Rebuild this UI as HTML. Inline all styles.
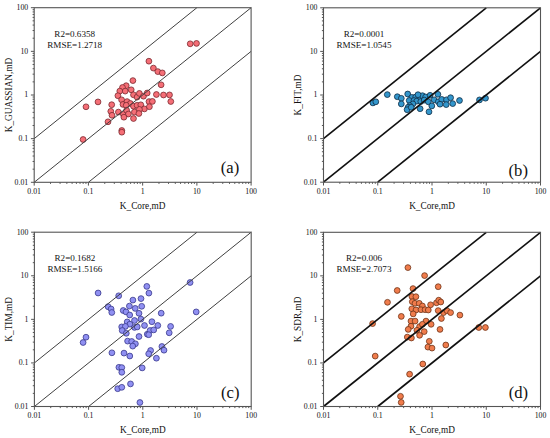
<!DOCTYPE html>
<html><head><meta charset="utf-8"><style>
html,body{margin:0;padding:0;background:#fff;width:550px;height:438px;overflow:hidden;position:relative}
text{font-family:"Liberation Serif",serif;fill:#111}
.tl{font-size:7.8px}
.al{font-size:9.3px}
.st{font-size:9.1px}
.tag{font-size:16.6px}
</style></head><body>
<svg width="550" height="438" viewBox="0 0 550 438" style="position:absolute;left:0;top:0"><g><circle cx="86.0" cy="106.8" r="2.9" fill="#F56E76" stroke="#7a2a30" stroke-width="0.8"/><circle cx="98.0" cy="101.9" r="2.9" fill="#F56E76" stroke="#7a2a30" stroke-width="0.8"/><circle cx="111.7" cy="104.7" r="2.9" fill="#F56E76" stroke="#7a2a30" stroke-width="0.8"/><circle cx="110.8" cy="111.3" r="2.9" fill="#F56E76" stroke="#7a2a30" stroke-width="0.8"/><circle cx="112.0" cy="115.3" r="2.9" fill="#F56E76" stroke="#7a2a30" stroke-width="0.8"/><circle cx="108.0" cy="121.8" r="2.9" fill="#F56E76" stroke="#7a2a30" stroke-width="0.8"/><circle cx="83.1" cy="139.5" r="2.9" fill="#F56E76" stroke="#7a2a30" stroke-width="0.8"/><circle cx="121.8" cy="130.5" r="2.9" fill="#F56E76" stroke="#7a2a30" stroke-width="0.8"/><circle cx="121.8" cy="132.2" r="2.9" fill="#F56E76" stroke="#7a2a30" stroke-width="0.8"/><circle cx="126.2" cy="85.7" r="2.9" fill="#F56E76" stroke="#7a2a30" stroke-width="0.8"/><circle cx="122.5" cy="87.5" r="2.9" fill="#F56E76" stroke="#7a2a30" stroke-width="0.8"/><circle cx="119.8" cy="91.1" r="2.9" fill="#F56E76" stroke="#7a2a30" stroke-width="0.8"/><circle cx="125.2" cy="91.1" r="2.9" fill="#F56E76" stroke="#7a2a30" stroke-width="0.8"/><circle cx="131.2" cy="89.8" r="2.9" fill="#F56E76" stroke="#7a2a30" stroke-width="0.8"/><circle cx="132.9" cy="80.6" r="2.9" fill="#F56E76" stroke="#7a2a30" stroke-width="0.8"/><circle cx="117.9" cy="95.7" r="2.9" fill="#F56E76" stroke="#7a2a30" stroke-width="0.8"/><circle cx="133.5" cy="94.8" r="2.9" fill="#F56E76" stroke="#7a2a30" stroke-width="0.8"/><circle cx="137.1" cy="97.1" r="2.9" fill="#F56E76" stroke="#7a2a30" stroke-width="0.8"/><circle cx="139.4" cy="93.4" r="2.9" fill="#F56E76" stroke="#7a2a30" stroke-width="0.8"/><circle cx="143.5" cy="96.2" r="2.9" fill="#F56E76" stroke="#7a2a30" stroke-width="0.8"/><circle cx="147.2" cy="93.0" r="2.9" fill="#F56E76" stroke="#7a2a30" stroke-width="0.8"/><circle cx="121.6" cy="99.8" r="2.9" fill="#F56E76" stroke="#7a2a30" stroke-width="0.8"/><circle cx="123.0" cy="104.4" r="2.9" fill="#F56E76" stroke="#7a2a30" stroke-width="0.8"/><circle cx="127.1" cy="101.6" r="2.9" fill="#F56E76" stroke="#7a2a30" stroke-width="0.8"/><circle cx="130.3" cy="103.5" r="2.9" fill="#F56E76" stroke="#7a2a30" stroke-width="0.8"/><circle cx="126.2" cy="105.3" r="2.9" fill="#F56E76" stroke="#7a2a30" stroke-width="0.8"/><circle cx="133.5" cy="106.2" r="2.9" fill="#F56E76" stroke="#7a2a30" stroke-width="0.8"/><circle cx="137.1" cy="105.3" r="2.9" fill="#F56E76" stroke="#7a2a30" stroke-width="0.8"/><circle cx="140.8" cy="104.8" r="2.9" fill="#F56E76" stroke="#7a2a30" stroke-width="0.8"/><circle cx="144.4" cy="108.9" r="2.9" fill="#F56E76" stroke="#7a2a30" stroke-width="0.8"/><circle cx="139.4" cy="109.4" r="2.9" fill="#F56E76" stroke="#7a2a30" stroke-width="0.8"/><circle cx="149.0" cy="101.6" r="2.9" fill="#F56E76" stroke="#7a2a30" stroke-width="0.8"/><circle cx="149.4" cy="106.7" r="2.9" fill="#F56E76" stroke="#7a2a30" stroke-width="0.8"/><circle cx="118.4" cy="112.1" r="2.9" fill="#F56E76" stroke="#7a2a30" stroke-width="0.8"/><circle cx="123.4" cy="114.4" r="2.9" fill="#F56E76" stroke="#7a2a30" stroke-width="0.8"/><circle cx="126.6" cy="110.3" r="2.9" fill="#F56E76" stroke="#7a2a30" stroke-width="0.8"/><circle cx="128.4" cy="114.0" r="2.9" fill="#F56E76" stroke="#7a2a30" stroke-width="0.8"/><circle cx="123.9" cy="117.2" r="2.9" fill="#F56E76" stroke="#7a2a30" stroke-width="0.8"/><circle cx="134.4" cy="112.1" r="2.9" fill="#F56E76" stroke="#7a2a30" stroke-width="0.8"/><circle cx="138.9" cy="113.5" r="2.9" fill="#F56E76" stroke="#7a2a30" stroke-width="0.8"/><circle cx="133.5" cy="118.5" r="2.9" fill="#F56E76" stroke="#7a2a30" stroke-width="0.8"/><circle cx="152.4" cy="101.4" r="2.9" fill="#F56E76" stroke="#7a2a30" stroke-width="0.8"/><circle cx="148.9" cy="61.2" r="2.9" fill="#F56E76" stroke="#7a2a30" stroke-width="0.8"/><circle cx="153.4" cy="68.1" r="2.9" fill="#F56E76" stroke="#7a2a30" stroke-width="0.8"/><circle cx="157.8" cy="71.6" r="2.9" fill="#F56E76" stroke="#7a2a30" stroke-width="0.8"/><circle cx="162.3" cy="72.9" r="2.9" fill="#F56E76" stroke="#7a2a30" stroke-width="0.8"/><circle cx="161.1" cy="84.8" r="2.9" fill="#F56E76" stroke="#7a2a30" stroke-width="0.8"/><circle cx="156.4" cy="94.5" r="2.9" fill="#F56E76" stroke="#7a2a30" stroke-width="0.8"/><circle cx="163.5" cy="95.0" r="2.9" fill="#F56E76" stroke="#7a2a30" stroke-width="0.8"/><circle cx="169.5" cy="94.9" r="2.9" fill="#F56E76" stroke="#7a2a30" stroke-width="0.8"/><circle cx="170.8" cy="101.5" r="2.9" fill="#F56E76" stroke="#7a2a30" stroke-width="0.8"/><circle cx="190.2" cy="43.8" r="2.9" fill="#F56E76" stroke="#7a2a30" stroke-width="0.8"/><circle cx="196.5" cy="43.4" r="2.9" fill="#F56E76" stroke="#7a2a30" stroke-width="0.8"/><line x1="34.20" y1="138.65" x2="196.88" y2="7.70" stroke="#404040" stroke-width="1.0"/><line x1="34.20" y1="182.30" x2="251.10" y2="7.70" stroke="#404040" stroke-width="1.0"/><line x1="88.42" y1="182.30" x2="251.10" y2="51.35" stroke="#404040" stroke-width="1.0"/><rect x="34.2" y="7.7" width="216.89999999999998" height="174.60000000000002" fill="none" stroke="#555" stroke-width="1.1"/><path d="M34.20 182.30v3.3M34.20 182.30h-3.3M50.52 182.30v1.6M34.20 169.16h-1.6M60.07 182.30v1.6M34.20 161.47h-1.6M66.85 182.30v1.6M34.20 156.02h-1.6M72.10 182.30v1.6M34.20 151.79h-1.6M76.40 182.30v1.6M34.20 148.33h-1.6M80.03 182.30v1.6M34.20 145.41h-1.6M83.17 182.30v1.6M34.20 142.88h-1.6M85.94 182.30v1.6M34.20 140.65h-1.6M88.42 182.30v3.3M34.20 138.65h-3.3M104.75 182.30v1.6M34.20 125.51h-1.6M114.30 182.30v1.6M34.20 117.82h-1.6M121.07 182.30v1.6M34.20 112.37h-1.6M126.33 182.30v1.6M34.20 108.14h-1.6M130.62 182.30v1.6M34.20 104.68h-1.6M134.25 182.30v1.6M34.20 101.76h-1.6M137.40 182.30v1.6M34.20 99.23h-1.6M140.17 182.30v1.6M34.20 97.00h-1.6M142.65 182.30v3.3M34.20 95.00h-3.3M158.97 182.30v1.6M34.20 81.86h-1.6M168.52 182.30v1.6M34.20 74.17h-1.6M175.30 182.30v1.6M34.20 68.72h-1.6M180.55 182.30v1.6M34.20 64.49h-1.6M184.85 182.30v1.6M34.20 61.03h-1.6M188.48 182.30v1.6M34.20 58.11h-1.6M191.62 182.30v1.6M34.20 55.58h-1.6M194.39 182.30v1.6M34.20 53.35h-1.6M196.88 182.30v3.3M34.20 51.35h-3.3M213.20 182.30v1.6M34.20 38.21h-1.6M222.75 182.30v1.6M34.20 30.52h-1.6M229.52 182.30v1.6M34.20 25.07h-1.6M234.78 182.30v1.6M34.20 20.84h-1.6M239.07 182.30v1.6M34.20 17.38h-1.6M242.70 182.30v1.6M34.20 14.46h-1.6M245.85 182.30v1.6M34.20 11.93h-1.6M248.62 182.30v1.6M34.20 9.70h-1.6M251.10 182.30v3.3M34.20 7.70h-3.3" stroke="#555" stroke-width="1" fill="none"/><text x="34.20" y="193.80" class="tl" text-anchor="middle">0.01</text><text x="28.20" y="184.60" class="tl" text-anchor="end">0.01</text><text x="88.42" y="193.80" class="tl" text-anchor="middle">0.1</text><text x="28.20" y="140.95" class="tl" text-anchor="end">0.1</text><text x="142.65" y="193.80" class="tl" text-anchor="middle">1</text><text x="28.20" y="97.30" class="tl" text-anchor="end">1</text><text x="196.88" y="193.80" class="tl" text-anchor="middle">10</text><text x="28.20" y="53.65" class="tl" text-anchor="end">10</text><text x="251.10" y="193.80" class="tl" text-anchor="middle">100</text><text x="28.20" y="10.00" class="tl" text-anchor="end">100</text><text x="142.65" y="208.60" class="al" text-anchor="middle">K_Core,mD</text><text transform="translate(11.50,95.00) rotate(-90)" class="al" text-anchor="middle">K_GUASSIAN,mD</text><text x="74.70" y="36.70" class="st" text-anchor="middle">R2=0.6358</text><text x="74.70" y="47.60" class="st" text-anchor="middle">RMSE=1.2718</text><text x="220.80" y="172.70" class="tag">(a)</text></g><g><circle cx="372.9" cy="102.9" r="2.9" fill="#3396CC" stroke="#0f2c44" stroke-width="0.8"/><circle cx="375.8" cy="101.80000000000001" r="2.9" fill="#3396CC" stroke="#0f2c44" stroke-width="0.8"/><circle cx="387.3" cy="94.60000000000001" r="2.9" fill="#3396CC" stroke="#0f2c44" stroke-width="0.8"/><circle cx="397.3" cy="96.7" r="2.9" fill="#3396CC" stroke="#0f2c44" stroke-width="0.8"/><circle cx="401.3" cy="98.30000000000001" r="2.9" fill="#3396CC" stroke="#0f2c44" stroke-width="0.8"/><circle cx="401.3" cy="103.9" r="2.9" fill="#3396CC" stroke="#0f2c44" stroke-width="0.8"/><circle cx="407.7" cy="94.0" r="2.9" fill="#3396CC" stroke="#0f2c44" stroke-width="0.8"/><circle cx="411.9" cy="97.4" r="2.9" fill="#3396CC" stroke="#0f2c44" stroke-width="0.8"/><circle cx="415.7" cy="97.0" r="2.9" fill="#3396CC" stroke="#0f2c44" stroke-width="0.8"/><circle cx="419.4" cy="96.7" r="2.9" fill="#3396CC" stroke="#0f2c44" stroke-width="0.8"/><circle cx="422.5" cy="95.7" r="2.9" fill="#3396CC" stroke="#0f2c44" stroke-width="0.8"/><circle cx="425.6" cy="97.0" r="2.9" fill="#3396CC" stroke="#0f2c44" stroke-width="0.8"/><circle cx="430.1" cy="95.30000000000001" r="2.9" fill="#3396CC" stroke="#0f2c44" stroke-width="0.8"/><circle cx="409.2" cy="100.5" r="2.9" fill="#3396CC" stroke="#0f2c44" stroke-width="0.8"/><circle cx="414.0" cy="100.5" r="2.9" fill="#3396CC" stroke="#0f2c44" stroke-width="0.8"/><circle cx="416.7" cy="101.2" r="2.9" fill="#3396CC" stroke="#0f2c44" stroke-width="0.8"/><circle cx="420.8" cy="101.5" r="2.9" fill="#3396CC" stroke="#0f2c44" stroke-width="0.8"/><circle cx="424.2" cy="100.10000000000001" r="2.9" fill="#3396CC" stroke="#0f2c44" stroke-width="0.8"/><circle cx="428.3" cy="101.80000000000001" r="2.9" fill="#3396CC" stroke="#0f2c44" stroke-width="0.8"/><circle cx="412.9" cy="103.9" r="2.9" fill="#3396CC" stroke="#0f2c44" stroke-width="0.8"/><circle cx="409.8" cy="105.60000000000001" r="2.9" fill="#3396CC" stroke="#0f2c44" stroke-width="0.8"/><circle cx="408.1" cy="107.30000000000001" r="2.9" fill="#3396CC" stroke="#0f2c44" stroke-width="0.8"/><circle cx="407.1" cy="109.7" r="2.9" fill="#3396CC" stroke="#0f2c44" stroke-width="0.8"/><circle cx="411.2" cy="107.30000000000001" r="2.9" fill="#3396CC" stroke="#0f2c44" stroke-width="0.8"/><circle cx="420.1" cy="108.7" r="2.9" fill="#3396CC" stroke="#0f2c44" stroke-width="0.8"/><circle cx="429.0" cy="111.80000000000001" r="2.9" fill="#3396CC" stroke="#0f2c44" stroke-width="0.8"/><circle cx="431.8" cy="105.9" r="2.9" fill="#3396CC" stroke="#0f2c44" stroke-width="0.8"/><circle cx="437.9" cy="94.30000000000001" r="2.9" fill="#3396CC" stroke="#0f2c44" stroke-width="0.8"/><circle cx="434.2" cy="99.80000000000001" r="2.9" fill="#3396CC" stroke="#0f2c44" stroke-width="0.8"/><circle cx="438.3" cy="101.80000000000001" r="2.9" fill="#3396CC" stroke="#0f2c44" stroke-width="0.8"/><circle cx="441.7" cy="99.4" r="2.9" fill="#3396CC" stroke="#0f2c44" stroke-width="0.8"/><circle cx="440.0" cy="104.2" r="2.9" fill="#3396CC" stroke="#0f2c44" stroke-width="0.8"/><circle cx="446.5" cy="99.80000000000001" r="2.9" fill="#3396CC" stroke="#0f2c44" stroke-width="0.8"/><circle cx="446.2" cy="104.60000000000001" r="2.9" fill="#3396CC" stroke="#0f2c44" stroke-width="0.8"/><circle cx="450.6" cy="97.7" r="2.9" fill="#3396CC" stroke="#0f2c44" stroke-width="0.8"/><circle cx="452.7" cy="103.60000000000001" r="2.9" fill="#3396CC" stroke="#0f2c44" stroke-width="0.8"/><circle cx="459.5" cy="100.5" r="2.9" fill="#3396CC" stroke="#0f2c44" stroke-width="0.8"/><circle cx="479.5" cy="99.9" r="2.9" fill="#3396CC" stroke="#0f2c44" stroke-width="0.8"/><circle cx="485.5" cy="98.2" r="2.9" fill="#3396CC" stroke="#0f2c44" stroke-width="0.8"/><circle cx="418.0" cy="94.7" r="2.9" fill="#3396CC" stroke="#0f2c44" stroke-width="0.8"/><line x1="323.50" y1="138.60" x2="486.25" y2="7.80" stroke="#111" stroke-width="1.65"/><line x1="323.50" y1="182.20" x2="540.50" y2="7.80" stroke="#111" stroke-width="1.65"/><line x1="377.75" y1="182.20" x2="540.50" y2="51.40" stroke="#111" stroke-width="1.65"/><rect x="323.5" y="7.8" width="217.0" height="174.39999999999998" fill="none" stroke="#555" stroke-width="1.1"/><path d="M323.50 182.20v3.3M323.50 182.20h-3.3M339.83 182.20v1.6M323.50 169.08h-1.6M349.38 182.20v1.6M323.50 161.40h-1.6M356.16 182.20v1.6M323.50 155.95h-1.6M361.42 182.20v1.6M323.50 151.72h-1.6M365.71 182.20v1.6M323.50 148.27h-1.6M369.35 182.20v1.6M323.50 145.35h-1.6M372.49 182.20v1.6M323.50 142.83h-1.6M375.27 182.20v1.6M323.50 140.60h-1.6M377.75 182.20v3.3M323.50 138.60h-3.3M394.08 182.20v1.6M323.50 125.48h-1.6M403.63 182.20v1.6M323.50 117.80h-1.6M410.41 182.20v1.6M323.50 112.35h-1.6M415.67 182.20v1.6M323.50 108.12h-1.6M419.96 182.20v1.6M323.50 104.67h-1.6M423.60 182.20v1.6M323.50 101.75h-1.6M426.74 182.20v1.6M323.50 99.23h-1.6M429.52 182.20v1.6M323.50 97.00h-1.6M432.00 182.20v3.3M323.50 95.00h-3.3M448.33 182.20v1.6M323.50 81.88h-1.6M457.88 182.20v1.6M323.50 74.20h-1.6M464.66 182.20v1.6M323.50 68.75h-1.6M469.92 182.20v1.6M323.50 64.52h-1.6M474.21 182.20v1.6M323.50 61.07h-1.6M477.85 182.20v1.6M323.50 58.15h-1.6M480.99 182.20v1.6M323.50 55.63h-1.6M483.77 182.20v1.6M323.50 53.40h-1.6M486.25 182.20v3.3M323.50 51.40h-3.3M502.58 182.20v1.6M323.50 38.28h-1.6M512.13 182.20v1.6M323.50 30.60h-1.6M518.91 182.20v1.6M323.50 25.15h-1.6M524.17 182.20v1.6M323.50 20.92h-1.6M528.46 182.20v1.6M323.50 17.47h-1.6M532.10 182.20v1.6M323.50 14.55h-1.6M535.24 182.20v1.6M323.50 12.03h-1.6M538.02 182.20v1.6M323.50 9.80h-1.6M540.50 182.20v3.3M323.50 7.80h-3.3" stroke="#555" stroke-width="1" fill="none"/><text x="323.50" y="193.70" class="tl" text-anchor="middle">0.01</text><text x="317.50" y="184.50" class="tl" text-anchor="end">0.01</text><text x="377.75" y="193.70" class="tl" text-anchor="middle">0.1</text><text x="317.50" y="140.90" class="tl" text-anchor="end">0.1</text><text x="432.00" y="193.70" class="tl" text-anchor="middle">1</text><text x="317.50" y="97.30" class="tl" text-anchor="end">1</text><text x="486.25" y="193.70" class="tl" text-anchor="middle">10</text><text x="317.50" y="53.70" class="tl" text-anchor="end">10</text><text x="540.50" y="193.70" class="tl" text-anchor="middle">100</text><text x="317.50" y="10.10" class="tl" text-anchor="end">100</text><text x="432.00" y="208.50" class="al" text-anchor="middle">K_Core,mD</text><text transform="translate(300.80,95.00) rotate(-90)" class="al" text-anchor="middle">K_FIT,mD</text><text x="364.00" y="36.80" class="st" text-anchor="middle">R2=0.0001</text><text x="364.00" y="47.70" class="st" text-anchor="middle">RMSE=1.0545</text><text x="508.60" y="175.80" class="tag">(b)</text></g><g><circle cx="86.0" cy="337.2" r="2.9" fill="#9090F2" stroke="#38388c" stroke-width="0.8"/><circle cx="83.1" cy="342.5" r="2.9" fill="#9090F2" stroke="#38388c" stroke-width="0.8"/><circle cx="98.1" cy="293.0" r="2.9" fill="#9090F2" stroke="#38388c" stroke-width="0.8"/><circle cx="118.7" cy="295.8" r="2.9" fill="#9090F2" stroke="#38388c" stroke-width="0.8"/><circle cx="108.1" cy="306.7" r="2.9" fill="#9090F2" stroke="#38388c" stroke-width="0.8"/><circle cx="111.1" cy="309.0" r="2.9" fill="#9090F2" stroke="#38388c" stroke-width="0.8"/><circle cx="111.8" cy="312.5" r="2.9" fill="#9090F2" stroke="#38388c" stroke-width="0.8"/><circle cx="132.9" cy="300.1" r="2.9" fill="#9090F2" stroke="#38388c" stroke-width="0.8"/><circle cx="141.0" cy="298.6" r="2.9" fill="#9090F2" stroke="#38388c" stroke-width="0.8"/><circle cx="129.4" cy="306.1" r="2.9" fill="#9090F2" stroke="#38388c" stroke-width="0.8"/><circle cx="135.2" cy="308.4" r="2.9" fill="#9090F2" stroke="#38388c" stroke-width="0.8"/><circle cx="141.7" cy="306.3" r="2.9" fill="#9090F2" stroke="#38388c" stroke-width="0.8"/><circle cx="123.2" cy="310.5" r="2.9" fill="#9090F2" stroke="#38388c" stroke-width="0.8"/><circle cx="126.0" cy="311.9" r="2.9" fill="#9090F2" stroke="#38388c" stroke-width="0.8"/><circle cx="129.7" cy="315.0" r="2.9" fill="#9090F2" stroke="#38388c" stroke-width="0.8"/><circle cx="139.0" cy="313.3" r="2.9" fill="#9090F2" stroke="#38388c" stroke-width="0.8"/><circle cx="146.8" cy="286.4" r="2.9" fill="#9090F2" stroke="#38388c" stroke-width="0.8"/><circle cx="148.9" cy="293.1" r="2.9" fill="#9090F2" stroke="#38388c" stroke-width="0.8"/><circle cx="161.2" cy="313.2" r="2.9" fill="#9090F2" stroke="#38388c" stroke-width="0.8"/><circle cx="134.5" cy="320.5" r="2.9" fill="#9090F2" stroke="#38388c" stroke-width="0.8"/><circle cx="140.9" cy="319.1" r="2.9" fill="#9090F2" stroke="#38388c" stroke-width="0.8"/><circle cx="127.2" cy="321.9" r="2.9" fill="#9090F2" stroke="#38388c" stroke-width="0.8"/><circle cx="129.9" cy="324.2" r="2.9" fill="#9090F2" stroke="#38388c" stroke-width="0.8"/><circle cx="121.7" cy="326.9" r="2.9" fill="#9090F2" stroke="#38388c" stroke-width="0.8"/><circle cx="125.4" cy="326.4" r="2.9" fill="#9090F2" stroke="#38388c" stroke-width="0.8"/><circle cx="122.2" cy="330.5" r="2.9" fill="#9090F2" stroke="#38388c" stroke-width="0.8"/><circle cx="126.3" cy="333.3" r="2.9" fill="#9090F2" stroke="#38388c" stroke-width="0.8"/><circle cx="134.5" cy="327.4" r="2.9" fill="#9090F2" stroke="#38388c" stroke-width="0.8"/><circle cx="137.2" cy="326.9" r="2.9" fill="#9090F2" stroke="#38388c" stroke-width="0.8"/><circle cx="144.5" cy="325.5" r="2.9" fill="#9090F2" stroke="#38388c" stroke-width="0.8"/><circle cx="147.3" cy="334.2" r="2.9" fill="#9090F2" stroke="#38388c" stroke-width="0.8"/><circle cx="139.0" cy="336.5" r="2.9" fill="#9090F2" stroke="#38388c" stroke-width="0.8"/><circle cx="127.6" cy="341.1" r="2.9" fill="#9090F2" stroke="#38388c" stroke-width="0.8"/><circle cx="131.7" cy="341.5" r="2.9" fill="#9090F2" stroke="#38388c" stroke-width="0.8"/><circle cx="135.4" cy="343.8" r="2.9" fill="#9090F2" stroke="#38388c" stroke-width="0.8"/><circle cx="132.7" cy="346.1" r="2.9" fill="#9090F2" stroke="#38388c" stroke-width="0.8"/><circle cx="151.9" cy="321.7" r="2.9" fill="#9090F2" stroke="#38388c" stroke-width="0.8"/><circle cx="157.8" cy="325.5" r="2.9" fill="#9090F2" stroke="#38388c" stroke-width="0.8"/><circle cx="150.1" cy="330.5" r="2.9" fill="#9090F2" stroke="#38388c" stroke-width="0.8"/><circle cx="153.7" cy="329.9" r="2.9" fill="#9090F2" stroke="#38388c" stroke-width="0.8"/><circle cx="148.7" cy="334.7" r="2.9" fill="#9090F2" stroke="#38388c" stroke-width="0.8"/><circle cx="170.6" cy="326.4" r="2.9" fill="#9090F2" stroke="#38388c" stroke-width="0.8"/><circle cx="169.2" cy="332.8" r="2.9" fill="#9090F2" stroke="#38388c" stroke-width="0.8"/><circle cx="161.9" cy="346.5" r="2.9" fill="#9090F2" stroke="#38388c" stroke-width="0.8"/><circle cx="111.9" cy="352.8" r="2.9" fill="#9090F2" stroke="#38388c" stroke-width="0.8"/><circle cx="124.0" cy="353.1" r="2.9" fill="#9090F2" stroke="#38388c" stroke-width="0.8"/><circle cx="129.8" cy="356.0" r="2.9" fill="#9090F2" stroke="#38388c" stroke-width="0.8"/><circle cx="150.6" cy="350.5" r="2.9" fill="#9090F2" stroke="#38388c" stroke-width="0.8"/><circle cx="148.7" cy="353.8" r="2.9" fill="#9090F2" stroke="#38388c" stroke-width="0.8"/><circle cx="164.0" cy="350.2" r="2.9" fill="#9090F2" stroke="#38388c" stroke-width="0.8"/><circle cx="156.4" cy="358.2" r="2.9" fill="#9090F2" stroke="#38388c" stroke-width="0.8"/><circle cx="142.2" cy="367.9" r="2.9" fill="#9090F2" stroke="#38388c" stroke-width="0.8"/><circle cx="118.9" cy="367.3" r="2.9" fill="#9090F2" stroke="#38388c" stroke-width="0.8"/><circle cx="121.8" cy="367.6" r="2.9" fill="#9090F2" stroke="#38388c" stroke-width="0.8"/><circle cx="121.8" cy="372.3" r="2.9" fill="#9090F2" stroke="#38388c" stroke-width="0.8"/><circle cx="130.5" cy="383.9" r="2.9" fill="#9090F2" stroke="#38388c" stroke-width="0.8"/><circle cx="117.7" cy="388.7" r="2.9" fill="#9090F2" stroke="#38388c" stroke-width="0.8"/><circle cx="121.8" cy="387.3" r="2.9" fill="#9090F2" stroke="#38388c" stroke-width="0.8"/><circle cx="139.9" cy="402.5" r="2.9" fill="#9090F2" stroke="#38388c" stroke-width="0.8"/><circle cx="190.1" cy="282.5" r="2.9" fill="#9090F2" stroke="#38388c" stroke-width="0.8"/><circle cx="196.2" cy="311.9" r="2.9" fill="#9090F2" stroke="#38388c" stroke-width="0.8"/><line x1="34.40" y1="362.93" x2="197.00" y2="232.20" stroke="#404040" stroke-width="1.0"/><line x1="34.40" y1="406.50" x2="251.20" y2="232.20" stroke="#404040" stroke-width="1.0"/><line x1="88.60" y1="406.50" x2="251.20" y2="275.77" stroke="#404040" stroke-width="1.0"/><rect x="34.4" y="232.2" width="216.79999999999998" height="174.3" fill="none" stroke="#555" stroke-width="1.1"/><path d="M34.40 406.50v3.3M34.40 406.50h-3.3M50.72 406.50v1.6M34.40 393.38h-1.6M60.26 406.50v1.6M34.40 385.71h-1.6M67.03 406.50v1.6M34.40 380.27h-1.6M72.28 406.50v1.6M34.40 376.04h-1.6M76.58 406.50v1.6M34.40 372.59h-1.6M80.20 406.50v1.6M34.40 369.67h-1.6M83.35 406.50v1.6M34.40 367.15h-1.6M86.12 406.50v1.6M34.40 364.92h-1.6M88.60 406.50v3.3M34.40 362.93h-3.3M104.92 406.50v1.6M34.40 349.81h-1.6M114.46 406.50v1.6M34.40 342.13h-1.6M121.23 406.50v1.6M34.40 336.69h-1.6M126.48 406.50v1.6M34.40 332.47h-1.6M130.78 406.50v1.6M34.40 329.02h-1.6M134.40 406.50v1.6M34.40 326.10h-1.6M137.55 406.50v1.6M34.40 323.57h-1.6M140.32 406.50v1.6M34.40 321.34h-1.6M142.80 406.50v3.3M34.40 319.35h-3.3M159.12 406.50v1.6M34.40 306.23h-1.6M168.66 406.50v1.6M34.40 298.56h-1.6M175.43 406.50v1.6M34.40 293.12h-1.6M180.68 406.50v1.6M34.40 288.89h-1.6M184.98 406.50v1.6M34.40 285.44h-1.6M188.60 406.50v1.6M34.40 282.52h-1.6M191.75 406.50v1.6M34.40 280.00h-1.6M194.52 406.50v1.6M34.40 277.77h-1.6M197.00 406.50v3.3M34.40 275.77h-3.3M213.32 406.50v1.6M34.40 262.66h-1.6M222.86 406.50v1.6M34.40 254.98h-1.6M229.63 406.50v1.6M34.40 249.54h-1.6M234.88 406.50v1.6M34.40 245.32h-1.6M239.18 406.50v1.6M34.40 241.87h-1.6M242.80 406.50v1.6M34.40 238.95h-1.6M245.95 406.50v1.6M34.40 236.42h-1.6M248.72 406.50v1.6M34.40 234.19h-1.6M251.20 406.50v3.3M34.40 232.20h-3.3" stroke="#555" stroke-width="1" fill="none"/><text x="34.40" y="418.40" class="tl" text-anchor="middle">0.01</text><text x="28.40" y="408.80" class="tl" text-anchor="end">0.01</text><text x="88.60" y="418.40" class="tl" text-anchor="middle">0.1</text><text x="28.40" y="365.23" class="tl" text-anchor="end">0.1</text><text x="142.80" y="418.40" class="tl" text-anchor="middle">1</text><text x="28.40" y="321.65" class="tl" text-anchor="end">1</text><text x="197.00" y="418.40" class="tl" text-anchor="middle">10</text><text x="28.40" y="278.07" class="tl" text-anchor="end">10</text><text x="251.20" y="418.40" class="tl" text-anchor="middle">100</text><text x="28.40" y="234.50" class="tl" text-anchor="end">100</text><text x="142.80" y="433.40" class="al" text-anchor="middle">K_Core,mD</text><text transform="translate(11.70,319.35) rotate(-90)" class="al" text-anchor="middle">K_TIM,mD</text><text x="74.90" y="261.20" class="st" text-anchor="middle">R2=0.1682</text><text x="74.90" y="272.10" class="st" text-anchor="middle">RMSE=1.5166</text><text x="221.10" y="398.20" class="tag">(c)</text></g><g><circle cx="407.9" cy="267.6" r="2.9" fill="#F07C4C" stroke="#6e3318" stroke-width="0.8"/><circle cx="424.6" cy="275.6" r="2.9" fill="#F07C4C" stroke="#6e3318" stroke-width="0.8"/><circle cx="397.2" cy="290.5" r="2.9" fill="#F07C4C" stroke="#6e3318" stroke-width="0.8"/><circle cx="413.0" cy="288.6" r="2.9" fill="#F07C4C" stroke="#6e3318" stroke-width="0.8"/><circle cx="438.2" cy="286.7" r="2.9" fill="#F07C4C" stroke="#6e3318" stroke-width="0.8"/><circle cx="387.5" cy="302.3" r="2.9" fill="#F07C4C" stroke="#6e3318" stroke-width="0.8"/><circle cx="411.9" cy="296.5" r="2.9" fill="#F07C4C" stroke="#6e3318" stroke-width="0.8"/><circle cx="415.9" cy="296.7" r="2.9" fill="#F07C4C" stroke="#6e3318" stroke-width="0.8"/><circle cx="412.3" cy="301.7" r="2.9" fill="#F07C4C" stroke="#6e3318" stroke-width="0.8"/><circle cx="415.0" cy="303.3" r="2.9" fill="#F07C4C" stroke="#6e3318" stroke-width="0.8"/><circle cx="419.2" cy="303.3" r="2.9" fill="#F07C4C" stroke="#6e3318" stroke-width="0.8"/><circle cx="422.4" cy="306.0" r="2.9" fill="#F07C4C" stroke="#6e3318" stroke-width="0.8"/><circle cx="430.6" cy="304.8" r="2.9" fill="#F07C4C" stroke="#6e3318" stroke-width="0.8"/><circle cx="436.5" cy="302.8" r="2.9" fill="#F07C4C" stroke="#6e3318" stroke-width="0.8"/><circle cx="438.7" cy="300.2" r="2.9" fill="#F07C4C" stroke="#6e3318" stroke-width="0.8"/><circle cx="440.8" cy="302.0" r="2.9" fill="#F07C4C" stroke="#6e3318" stroke-width="0.8"/><circle cx="411.8" cy="308.8" r="2.9" fill="#F07C4C" stroke="#6e3318" stroke-width="0.8"/><circle cx="416.0" cy="310.0" r="2.9" fill="#F07C4C" stroke="#6e3318" stroke-width="0.8"/><circle cx="421.0" cy="309.7" r="2.9" fill="#F07C4C" stroke="#6e3318" stroke-width="0.8"/><circle cx="425.1" cy="309.7" r="2.9" fill="#F07C4C" stroke="#6e3318" stroke-width="0.8"/><circle cx="428.3" cy="310.0" r="2.9" fill="#F07C4C" stroke="#6e3318" stroke-width="0.8"/><circle cx="413.2" cy="313.9" r="2.9" fill="#F07C4C" stroke="#6e3318" stroke-width="0.8"/><circle cx="438.2" cy="310.6" r="2.9" fill="#F07C4C" stroke="#6e3318" stroke-width="0.8"/><circle cx="443.5" cy="312.6" r="2.9" fill="#F07C4C" stroke="#6e3318" stroke-width="0.8"/><circle cx="446.9" cy="310.6" r="2.9" fill="#F07C4C" stroke="#6e3318" stroke-width="0.8"/><circle cx="450.6" cy="312.6" r="2.9" fill="#F07C4C" stroke="#6e3318" stroke-width="0.8"/><circle cx="459.9" cy="315.1" r="2.9" fill="#F07C4C" stroke="#6e3318" stroke-width="0.8"/><circle cx="441.4" cy="318.5" r="2.9" fill="#F07C4C" stroke="#6e3318" stroke-width="0.8"/><circle cx="401.3" cy="316.4" r="2.9" fill="#F07C4C" stroke="#6e3318" stroke-width="0.8"/><circle cx="372.6" cy="323.6" r="2.9" fill="#F07C4C" stroke="#6e3318" stroke-width="0.8"/><circle cx="411.0" cy="321.1" r="2.9" fill="#F07C4C" stroke="#6e3318" stroke-width="0.8"/><circle cx="415.1" cy="321.1" r="2.9" fill="#F07C4C" stroke="#6e3318" stroke-width="0.8"/><circle cx="426.0" cy="321.1" r="2.9" fill="#F07C4C" stroke="#6e3318" stroke-width="0.8"/><circle cx="431.1" cy="324.3" r="2.9" fill="#F07C4C" stroke="#6e3318" stroke-width="0.8"/><circle cx="411.0" cy="326.2" r="2.9" fill="#F07C4C" stroke="#6e3318" stroke-width="0.8"/><circle cx="408.2" cy="329.4" r="2.9" fill="#F07C4C" stroke="#6e3318" stroke-width="0.8"/><circle cx="419.6" cy="326.6" r="2.9" fill="#F07C4C" stroke="#6e3318" stroke-width="0.8"/><circle cx="422.4" cy="324.3" r="2.9" fill="#F07C4C" stroke="#6e3318" stroke-width="0.8"/><circle cx="416.9" cy="330.3" r="2.9" fill="#F07C4C" stroke="#6e3318" stroke-width="0.8"/><circle cx="424.2" cy="331.6" r="2.9" fill="#F07C4C" stroke="#6e3318" stroke-width="0.8"/><circle cx="419.6" cy="335.3" r="2.9" fill="#F07C4C" stroke="#6e3318" stroke-width="0.8"/><circle cx="407.3" cy="337.1" r="2.9" fill="#F07C4C" stroke="#6e3318" stroke-width="0.8"/><circle cx="411.4" cy="338.0" r="2.9" fill="#F07C4C" stroke="#6e3318" stroke-width="0.8"/><circle cx="429.3" cy="341.3" r="2.9" fill="#F07C4C" stroke="#6e3318" stroke-width="0.8"/><circle cx="427.9" cy="347.1" r="2.9" fill="#F07C4C" stroke="#6e3318" stroke-width="0.8"/><circle cx="432.0" cy="348.1" r="2.9" fill="#F07C4C" stroke="#6e3318" stroke-width="0.8"/><circle cx="440.0" cy="329.4" r="2.9" fill="#F07C4C" stroke="#6e3318" stroke-width="0.8"/><circle cx="445.8" cy="345.0" r="2.9" fill="#F07C4C" stroke="#6e3318" stroke-width="0.8"/><circle cx="375.2" cy="356.1" r="2.9" fill="#F07C4C" stroke="#6e3318" stroke-width="0.8"/><circle cx="409.6" cy="374.2" r="2.9" fill="#F07C4C" stroke="#6e3318" stroke-width="0.8"/><circle cx="422.8" cy="364.0" r="2.9" fill="#F07C4C" stroke="#6e3318" stroke-width="0.8"/><circle cx="400.5" cy="396.3" r="2.9" fill="#F07C4C" stroke="#6e3318" stroke-width="0.8"/><circle cx="401.2" cy="402.4" r="2.9" fill="#F07C4C" stroke="#6e3318" stroke-width="0.8"/><circle cx="478.8" cy="327.5" r="2.9" fill="#F07C4C" stroke="#6e3318" stroke-width="0.8"/><circle cx="485.4" cy="327.5" r="2.9" fill="#F07C4C" stroke="#6e3318" stroke-width="0.8"/><line x1="323.50" y1="362.95" x2="486.25" y2="232.30" stroke="#111" stroke-width="1.65"/><line x1="323.50" y1="406.50" x2="540.50" y2="232.30" stroke="#111" stroke-width="1.65"/><line x1="377.75" y1="406.50" x2="540.50" y2="275.85" stroke="#111" stroke-width="1.65"/><rect x="323.5" y="232.3" width="217.0" height="174.2" fill="none" stroke="#555" stroke-width="1.1"/><path d="M323.50 406.50v3.3M323.50 406.50h-3.3M339.83 406.50v1.6M323.50 393.39h-1.6M349.38 406.50v1.6M323.50 385.72h-1.6M356.16 406.50v1.6M323.50 380.28h-1.6M361.42 406.50v1.6M323.50 376.06h-1.6M365.71 406.50v1.6M323.50 372.61h-1.6M369.35 406.50v1.6M323.50 369.70h-1.6M372.49 406.50v1.6M323.50 367.17h-1.6M375.27 406.50v1.6M323.50 364.94h-1.6M377.75 406.50v3.3M323.50 362.95h-3.3M394.08 406.50v1.6M323.50 349.84h-1.6M403.63 406.50v1.6M323.50 342.17h-1.6M410.41 406.50v1.6M323.50 336.73h-1.6M415.67 406.50v1.6M323.50 332.51h-1.6M419.96 406.50v1.6M323.50 329.06h-1.6M423.60 406.50v1.6M323.50 326.15h-1.6M426.74 406.50v1.6M323.50 323.62h-1.6M429.52 406.50v1.6M323.50 321.39h-1.6M432.00 406.50v3.3M323.50 319.40h-3.3M448.33 406.50v1.6M323.50 306.29h-1.6M457.88 406.50v1.6M323.50 298.62h-1.6M464.66 406.50v1.6M323.50 293.18h-1.6M469.92 406.50v1.6M323.50 288.96h-1.6M474.21 406.50v1.6M323.50 285.51h-1.6M477.85 406.50v1.6M323.50 282.60h-1.6M480.99 406.50v1.6M323.50 280.07h-1.6M483.77 406.50v1.6M323.50 277.84h-1.6M486.25 406.50v3.3M323.50 275.85h-3.3M502.58 406.50v1.6M323.50 262.74h-1.6M512.13 406.50v1.6M323.50 255.07h-1.6M518.91 406.50v1.6M323.50 249.63h-1.6M524.17 406.50v1.6M323.50 245.41h-1.6M528.46 406.50v1.6M323.50 241.96h-1.6M532.10 406.50v1.6M323.50 239.05h-1.6M535.24 406.50v1.6M323.50 236.52h-1.6M538.02 406.50v1.6M323.50 234.29h-1.6M540.50 406.50v3.3M323.50 232.30h-3.3" stroke="#555" stroke-width="1" fill="none"/><text x="323.50" y="418.40" class="tl" text-anchor="middle">0.01</text><text x="317.50" y="408.80" class="tl" text-anchor="end">0.01</text><text x="377.75" y="418.40" class="tl" text-anchor="middle">0.1</text><text x="317.50" y="365.25" class="tl" text-anchor="end">0.1</text><text x="432.00" y="418.40" class="tl" text-anchor="middle">1</text><text x="317.50" y="321.70" class="tl" text-anchor="end">1</text><text x="486.25" y="418.40" class="tl" text-anchor="middle">10</text><text x="317.50" y="278.15" class="tl" text-anchor="end">10</text><text x="540.50" y="418.40" class="tl" text-anchor="middle">100</text><text x="317.50" y="234.60" class="tl" text-anchor="end">100</text><text x="432.00" y="433.40" class="al" text-anchor="middle">K_Core,mD</text><text transform="translate(300.80,319.40) rotate(-90)" class="al" text-anchor="middle">K_SDR,mD</text><text x="364.00" y="261.30" class="st" text-anchor="middle">R2=0.006</text><text x="364.00" y="272.20" class="st" text-anchor="middle">RMSE=2.7073</text><text x="508.80" y="398.30" class="tag">(d)</text></g></svg>
</body></html>
